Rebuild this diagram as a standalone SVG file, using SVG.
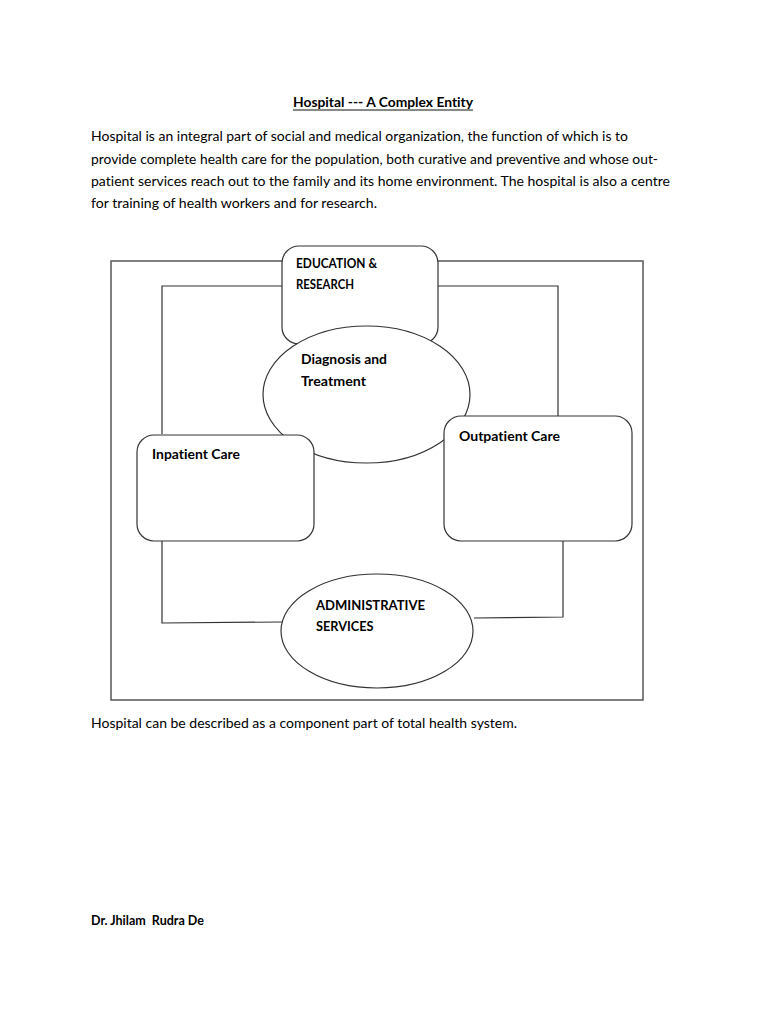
<svg xmlns="http://www.w3.org/2000/svg" width="768" height="1024" viewBox="0 0 768 1024">
<style>
text{font-variant-ligatures:none}
.t{font-family:Lato,"Open Sans","Liberation Sans",sans-serif;font-size:14px;fill:#000}
.b{font-family:Lato,"Open Sans","Liberation Sans",sans-serif;font-size:13.5px;font-weight:bold;fill:#000}
.ln{fill:none;stroke:#333;stroke-width:1.2}
.shape{fill:#fff;stroke:#333;stroke-width:1.2}
.frame{fill:none;stroke:#555;stroke-width:1.5}
</style>
<rect width="768" height="1024" fill="#fff"/>
<g id="title">
<text class="b" x="293" y="107" textLength="180" lengthAdjust="spacingAndGlyphs">Hospital --- A Complex Entity</text>
<line x1="293" y1="110" x2="473" y2="110" stroke="#111" stroke-width="1"/>
</g>
<g id="intro">
<text class="t" x="91" y="141" textLength="537" lengthAdjust="spacingAndGlyphs">Hospital is an integral part of social and medical organization, the function of which is to</text>
<text class="t" x="91" y="164" textLength="567" lengthAdjust="spacingAndGlyphs">provide complete health care for the population, both curative and preventive and whose out-</text>
<text class="t" x="91" y="186" textLength="579" lengthAdjust="spacingAndGlyphs">patient services reach out to the family and its home environment. The hospital is also a centre</text>
<text class="t" x="91" y="208" textLength="286" lengthAdjust="spacingAndGlyphs">for training of health workers and for research.</text>
</g>
<rect id="frame" class="frame" x="111" y="261" width="532" height="439"/>
<g id="connectors">
<polyline class="ln" points="282,286 162,286 162,434"/>
<polyline class="ln" points="162,541 162,623 282,622"/>
<polyline class="ln" points="438,286 558,286 558,416"/>
<polyline class="ln" points="563,541 563,617 474,618"/>
</g>
<g id="education">
<rect class="shape" x="282" y="246" width="156" height="98" rx="17"/>
<text class="b" x="296" y="268" textLength="81" lengthAdjust="spacingAndGlyphs">EDUCATION &amp;</text>
<text class="b" x="296" y="289" textLength="58" lengthAdjust="spacingAndGlyphs">RESEARCH</text>
</g>
<g id="diagnosis">
<ellipse class="shape" cx="366.5" cy="394.5" rx="103.5" ry="68.5"/>
<text class="b" x="301" y="364" textLength="86" lengthAdjust="spacingAndGlyphs">Diagnosis and</text>
<text class="b" x="301" y="386" textLength="65" lengthAdjust="spacingAndGlyphs">Treatment</text>
</g>
<g id="inpatient">
<rect class="shape" x="137" y="435" width="177" height="106" rx="17"/>
<text class="b" x="152" y="459" textLength="88" lengthAdjust="spacingAndGlyphs">Inpatient Care</text>
</g>
<g id="outpatient">
<rect class="shape" x="444" y="416" width="188" height="125" rx="17"/>
<text class="b" x="459" y="441" textLength="101" lengthAdjust="spacingAndGlyphs">Outpatient Care</text>
</g>
<g id="administrative">
<ellipse class="shape" cx="377" cy="631" rx="96" ry="57"/>
<text class="b" x="316" y="610" textLength="109" lengthAdjust="spacingAndGlyphs">ADMINISTRATIVE</text>
<text class="b" x="316" y="631" textLength="57.5" lengthAdjust="spacingAndGlyphs">SERVICES</text>
</g>
<g id="footer">
<text class="t" x="91" y="728" textLength="426" lengthAdjust="spacingAndGlyphs">Hospital can be described as a component part of total health system.</text>
<text class="b" x="91" y="925" textLength="113" lengthAdjust="spacingAndGlyphs" xml:space="preserve">Dr. Jhilam  Rudra De</text>
</g>
</svg>
